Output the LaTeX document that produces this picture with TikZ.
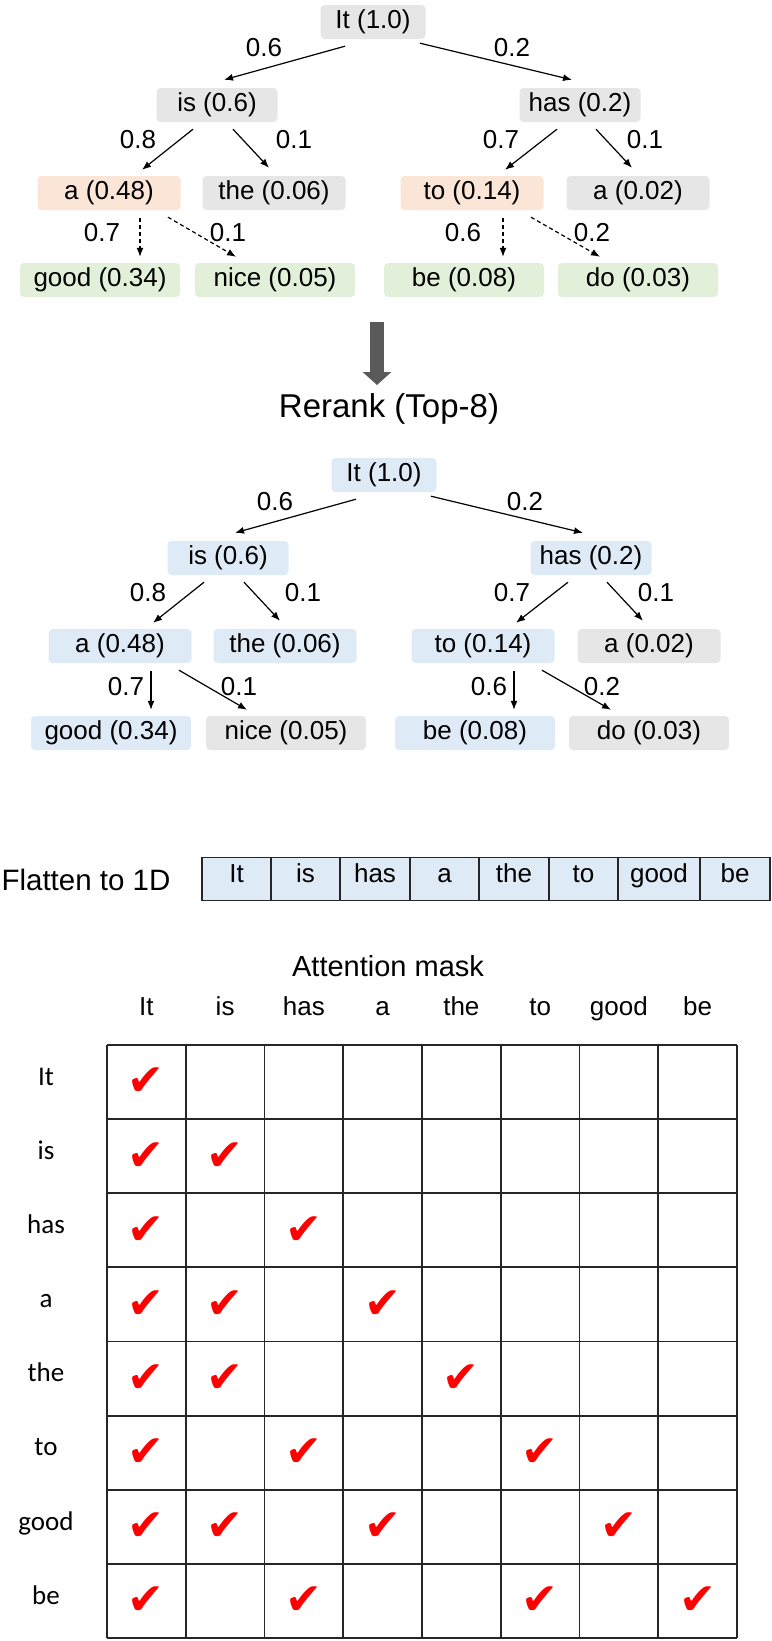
\documentclass[tikz,border=0pt]{standalone}
\usepackage{fontspec}
\setmainfont{Liberation Sans}
\newfontfamily\calibrifont{Carlito}
\newfontfamily\symbolfont{DejaVu Sans}
\usepackage{xcolor}
\usetikzlibrary{arrows.meta}
\usetikzlibrary{positioning}
\definecolor{tokgray}{HTML}{E7E6E6}
\definecolor{tokorange}{HTML}{FBE5D6}
\definecolor{tokgreen}{HTML}{E2F0D9}
\definecolor{tokblue}{HTML}{DEEBF7}
\definecolor{bigarrow}{HTML}{595959}
\definecolor{gridgray}{HTML}{262626}
\tikzset{
% Define standard arrow tip
>={Latex[length=9pt, width=7pt]},
tok/.style={rectangle, rounded corners=4pt, inner sep=0, minimum height=34pt, font=\fontsize{26}{30}\selectfont},
lvone/.style={tok, minimum width=105pt},
lvtwo/.style={tok, minimum width=121pt},
lvthree/.style={tok, minimum width=143pt},
lvfour/.style={tok, minimum width=160pt},
prob/.style={inner sep=0, font=\fontsize{26}{30}\selectfont},
probarrow/.style={->, line width=1.2pt},
guessarrow/.style={probarrow, dash pattern=on 4pt off 3pt},
word/.style={inner sep=0, text height=0.72em, text depth=0pt, font=\fontsize{26}{30}\selectfont},
flatcell/.style={word, draw=gridgray, line width=1.5pt, fill=tokblue, minimum height=43pt},
rowword/.style={inner sep=0, text height=0.64em, text depth=0pt, font=\calibrifont\fontsize{27}{32}\selectfont},
tick/.style={inner sep=0, text=red, font=\symbolfont\fontsize{44}{48}\selectfont},
gridline/.style={line width=1.8pt, draw=gridgray},
}
\begin{document}
\begin{tikzpicture}[x=1pt, y=-1pt]
  \useasboundingbox (0,0) rectangle (771,1641);

  % draft tree
  \node[lvone, fill=tokgray] (it) at (373,22) {It (1.0)};
  \node[lvtwo, fill=tokgray] (is) at (217,105) {is (0.6)};
  \node[lvtwo, fill=tokgray] (has) at (580,105) {has (0.2)};
  \node[lvthree, fill=tokorange] (a) at (109,193) {a (0.48)};
  \node[lvthree, fill=tokgray] (the) at (274,193) {the (0.06)};
  \node[lvthree, fill=tokorange] (to) at (472,193) {to (0.14)};
  \node[lvthree, fill=tokgray] (atwo) at (638,193) {a (0.02)};
  \node[lvfour, fill=tokgreen] (good) at (100,280) {good (0.34)};
  \node[lvfour, fill=tokgreen] (nice) at (275,280) {nice (0.05)};
  \node[lvfour, fill=tokgreen] (be) at (464,280) {be (0.08)};
  \node[lvfour, fill=tokgreen] (do) at (638,280) {do (0.03)};

  \draw[probarrow] ([xshift=-28pt, yshift=-7pt]it.south) -- ([xshift=7pt, yshift=8pt]is.north);
  \draw[probarrow] ([xshift=47pt, yshift=-4pt]it.south) -- ([xshift=-8pt, yshift=8pt]has.north);
  \draw[probarrow] ([xshift=-24pt, yshift=-7pt]is.south) -- ([xshift=33pt, yshift=6pt]a.north);
  \draw[probarrow] ([xshift=16pt, yshift=-7pt]is.south) -- ([xshift=-5pt, yshift=8pt]the.north);
  \draw[probarrow] ([xshift=-23pt, yshift=-7pt]has.south) -- ([xshift=33pt, yshift=6pt]to.north);
  \draw[probarrow] ([xshift=16pt, yshift=-7pt]has.south) -- ([xshift=-6pt, yshift=8pt]atwo.north);
  \draw[guessarrow] ([xshift=31pt, yshift=-8pt]a.south) -- ([xshift=40pt, yshift=6pt]good.north);
  \draw[guessarrow] ([xshift=59pt, yshift=-7pt]a.south) -- ([xshift=-39pt, yshift=6pt]nice.north);
  \draw[guessarrow] ([xshift=31pt, yshift=-8pt]to.south) -- ([xshift=39pt, yshift=6pt]be.north);
  \draw[guessarrow] ([xshift=59pt, yshift=-7pt]to.south) -- ([xshift=-38pt, yshift=6pt]do.north);

  \node[prob] (pitis) at (264,48) {0.6};
  \node[prob] (pithas) at (512,48) {0.2};
  \node[prob] (pisa) at (138,140) {0.8};
  \node[prob] (pisthe) at (294,140) {0.1};
  \node[prob] (phasto) at (501,140) {0.7};
  \node[prob] (phasa) at (645,140) {0.1};
  \node[prob] (pagood) at (102,233) {0.7};
  \node[prob] (panice) at (228,233) {0.1};
  \node[prob] (ptobe) at (463,233) {0.6};
  \node[prob] (ptodo) at (592,233) {0.2};

  \coordinate (arrowtail) at (377,322);
  \coordinate (arrowtip) at (377,385);
  \draw[bigarrow, line width=14pt, -{Triangle[length=13pt, width=28pt]}] (arrowtail) -- (arrowtip);
  \node[inner sep=0, font=\fontsize{33}{40}\selectfont] (rerank) at (389,409) {Rerank (Top-8)};

  % reranked tree
  \begin{scope}[shift={(11,453)}]
    \node[lvone, fill=tokblue] (rit) at (373,22) {It (1.0)};
    \node[lvtwo, fill=tokblue] (ris) at (217,105) {is (0.6)};
    \node[lvtwo, fill=tokblue] (rhas) at (580,105) {has (0.2)};
    \node[lvthree, fill=tokblue] (ra) at (109,193) {a (0.48)};
    \node[lvthree, fill=tokblue] (rthe) at (274,193) {the (0.06)};
    \node[lvthree, fill=tokblue] (rto) at (472,193) {to (0.14)};
    \node[lvthree, fill=tokgray] (ratwo) at (638,193) {a (0.02)};
    \node[lvfour, fill=tokblue] (rgood) at (100,280) {good (0.34)};
    \node[lvfour, fill=tokgray] (rnice) at (275,280) {nice (0.05)};
    \node[lvfour, fill=tokblue] (rbe) at (464,280) {be (0.08)};
    \node[lvfour, fill=tokgray] (rdo) at (638,280) {do (0.03)};

    \draw[probarrow] ([xshift=-28pt, yshift=-7pt]rit.south) -- ([xshift=7pt, yshift=8pt]ris.north);
    \draw[probarrow] ([xshift=47pt, yshift=-4pt]rit.south) -- ([xshift=-8pt, yshift=8pt]rhas.north);
    \draw[probarrow] ([xshift=-24pt, yshift=-7pt]ris.south) -- ([xshift=33pt, yshift=6pt]ra.north);
    \draw[probarrow] ([xshift=16pt, yshift=-7pt]ris.south) -- ([xshift=-5pt, yshift=8pt]rthe.north);
    \draw[probarrow] ([xshift=-23pt, yshift=-7pt]rhas.south) -- ([xshift=33pt, yshift=6pt]rto.north);
    \draw[probarrow] ([xshift=16pt, yshift=-7pt]rhas.south) -- ([xshift=-6pt, yshift=8pt]ratwo.north);
    \draw[probarrow] ([xshift=31pt, yshift=-8pt]ra.south) -- ([xshift=40pt, yshift=6pt]rgood.north);
    \draw[probarrow] ([xshift=59pt, yshift=-7pt]ra.south) -- ([xshift=-39pt, yshift=6pt]rnice.north);
    \draw[probarrow] ([xshift=31pt, yshift=-8pt]rto.south) -- ([xshift=39pt, yshift=6pt]rbe.north);
    \draw[probarrow] ([xshift=59pt, yshift=-7pt]rto.south) -- ([xshift=-38pt, yshift=6pt]rdo.north);

    \node[prob] (rpitis) at (264,49) {0.6};
    \node[prob] (rpithas) at (514,49) {0.2};
    \node[prob] (rpisa) at (137,140) {0.8};
    \node[prob] (rpisthe) at (292,140) {0.1};
    \node[prob] (rphasto) at (501,140) {0.7};
    \node[prob] (rphasa) at (645,140) {0.1};
    \node[prob] (rpagood) at (115,234) {0.7};
    \node[prob] (rpanice) at (228,234) {0.1};
    \node[prob] (rptobe) at (478,234) {0.6};
    \node[prob] (rptodo) at (591,234) {0.2};
  \end{scope}

  % flattened sequence
  \node[inner sep=0, font=\fontsize{29.5}{34}\selectfont] (flat) at (86,880) {Flatten to 1D};
  \foreach \cx/\cw/\tok [count=\i] in {236.5/69/It, 305.5/69/is, 375/70/has, 444.5/69/a, 514/70/the, 583.5/69/to, 659/82/good, 735/70/be}
    \node[flatcell, minimum width=\cw pt] (f\i) at (\cx,879) {\tok};

  % attention mask
  \node[inner sep=0, font=\fontsize{29}{34}\selectfont] (masktitle) at (388,966) {Attention mask};
  \foreach \tok [count=\c] in {It, is, has, a, the, to, good, be}
    \node[word] (col\c) at ({107+78.75*(\c-0.5)},1012) {\tok};
  \foreach \tok [count=\r] in {It, is, has, a, the, to, good, be}
    \node[rowword] (row\r) at (46,{1045+74.125*(\r-0.5)}) {\tok};
  \foreach \c in {0,...,8}
    \draw[gridline] ({107+78.75*\c},1045) -- ({107+78.75*\c},1638);
  \foreach \r in {0,...,8}
    \draw[gridline] (107,{1045+74.125*\r}) -- (737,{1045+74.125*\r});
  \foreach \r/\c in {1/1, 2/1, 2/2, 3/1, 3/3, 4/1, 4/2, 4/4, 5/1, 5/2, 5/5, 6/1, 6/3, 6/6, 7/1, 7/2, 7/4, 7/7, 8/1, 8/3, 8/6, 8/8}
    \node[tick] (chk\r\c) at ({107+78.75*(\c-0.5)},{1045+74.125*(\r-0.5)}) {✔};
\end{tikzpicture}
\end{document}
